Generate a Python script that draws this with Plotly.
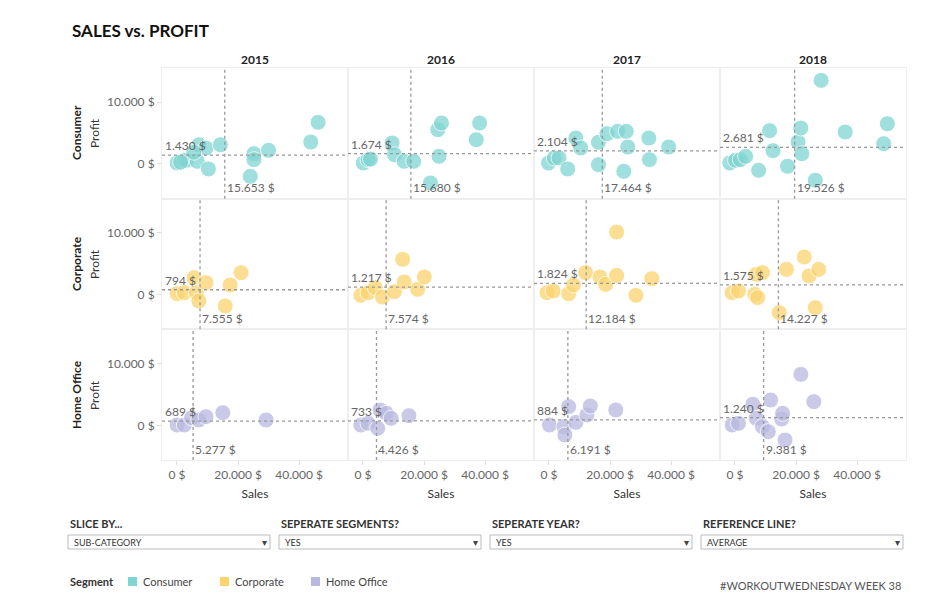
import plotly.graph_objects as go
from plotly.subplots import make_subplots

years = ["2015", "2016", "2017", "2018"]
segments = ["Consumer", "Corporate", "Home Office"]
colors = {"Consumer": "#7fd5d2", "Corporate": "#fbd46e", "Home Office": "#b9b8e0"}

sales = {
 "Consumer": [
  [60, 2400, 3200, 7150, 6650, 9500, 10300, 14200, 24000, 25200, 25200, 30000, 43800, 46200, 1200, 5500],
  [100, 1670, 2460, 9550, 10300, 13500, 16600, 22100, 24500, 25700, 24900, 37100, 38200],
  [-160, 1740, 3300, 6130, 8800, 10400, 16200, 16200, 19000, 22500, 25300, 24500, 25800, 32700, 32900, 39200],
  [-1700, 200, 1770, 3500, 7740, 11350, 12460, 17200, 20650, 21580, 21900, 26300, 28200, 36100, 48700, 49900]],
 "Corporate": [
  [60, 2400, 5570, 6360, 7150, 9500, 15800, 17400, 21000],
  [-700, 1670, 4030, 6390, 10300, 13000, 13500, 17900, 20100],
  [-620, 1410, 6460, 8030, 11970, 16700, 18550, 22160, 28460, 22160, 33680],
  [-920, 1150, 6490, 7440, 6950, 9000, 14500, 16850, 22690, 24260, 27410, 26300]],
 "Home Office": [
  [60, 2400, 4790, 7150, 9500, 15000, 29180],
  [-700, 1670, 4820, 5600, 7660, 9240, 15050],
  [160, 4890, 5200, 6460, 8820, 12430, 13540, 21870],
  [-920, 1150, 5840, 6950, 9000, 10900, 11680, 15290, 15610, 16400, 21580, 25810]],
}
profit = {
 "Consumer": [
  [160, 600, 600, 3100, 430, 2580, -800, 3100, -2000, 1660, 700, 2200, 3550, 6720, 300, 1900],
  [160, 700, 800, 3390, 1500, 430, 430, -3060, 5540, 6610, 1240, 3920, 6610],
  [160, 970, 970, -800, 4190, 2580, 3500, -110, 4890, 5270, 5270, -1180, 2740, 4190, 700, 2740],
  [160, 600, 700, 1240, -1020, 5380, 2150, -370, 3550, 5810, 1660, -2630, 13500, 5160, 3280, 6500]],
 "Corporate": [
  [160, 320, 2740, 320, -1020, 1940, -1830, 1560, 3550],
  [-110, 320, 1130, -380, 480, 5700, 2040, 860, 2850],
  [320, 590, 160, 1560, 3550, 2850, 1660, 3110, -110, 10110, 2580],
  [320, 590, 50, -480, 3270, 3550, -2900, 4080, 6080, 3020, 4080, -2100]],
 "Home Office": [
  [50, 50, 1240, 860, 1400, 2040, 860],
  [50, 320, -480, 2470, 1940, 1130, 1560],
  [50, -210, -1560, 3020, 480, 1670, 3120, 2470],
  [50, 320, 3390, 1130, -210, -1020, 4080, 1020, 1940, -2370, 8230, 3820]],
}
avg_sales = {"Consumer": [15653, 15680, 17464, 19526], "Corporate": [7555, 7574, 12184, 14227],
             "Home Office": [5277, 4426, 6191, 9381]}
avg_profit = {"Consumer": [1430, 1674, 2104, 2681], "Corporate": [794, 1217, 1824, 1575],
              "Home Office": [689, 733, 884, 1240]}
x_tickvals = [0, 20000, 40000]
x_ticktext = ["0 $", "20.000 $", "40.000 $"]
y_tickvals = [0, 10000]
y_ticktext = ["0 $", "10.000 $"]

def fmt(v):
    return f"{v:,}".replace(",", ".") + " $"

W, H = 945, 606
L, R, T, B = 154, 47, 60, 154
PW, PH = W - L - R, H - T - B
fig = make_subplots(rows=3, cols=4, horizontal_spacing=0, vertical_spacing=0)
gray = "#666666"
font = "Lato, Open Sans, sans-serif"
for r, seg in enumerate(segments):
    for c in range(4):
        fig.add_trace(go.Scatter(x=sales[seg][c], y=profit[seg][c], mode="markers",
            marker=dict(size=16, color=colors[seg], opacity=0.75, line=dict(color="white", width=1)),
            showlegend=False, hoverinfo="skip"), row=r + 1, col=c + 1)
        n = r * 4 + c + 1
        sfx = "" if n == 1 else str(n)
        fig.add_shape(type="line", xref=f"x{sfx} domain", yref=f"y{sfx}", x0=0, x1=1,
                      y0=avg_profit[seg][c], y1=avg_profit[seg][c],
                      line=dict(color="#999", width=1.3, dash="dot"))
        fig.add_shape(type="line", xref=f"x{sfx}", yref=f"y{sfx} domain", y0=0, y1=1,
                      x0=avg_sales[seg][c], x1=avg_sales[seg][c],
                      line=dict(color="#999", width=1.3, dash="dot"))
        fig.add_annotation(xref=f"x{sfx} domain", yref=f"y{sfx}", x=0.005, y=avg_profit[seg][c],
                           text=fmt(avg_profit[seg][c]), showarrow=False, xanchor="left",
                           yanchor="bottom", font=dict(size=12, color=gray, family=font))
        fig.add_annotation(xref=f"x{sfx}", yref=f"y{sfx} domain", x=avg_sales[seg][c], y=0.01,
                           text=fmt(avg_sales[seg][c]), showarrow=False, xanchor="left",
                           yanchor="bottom", font=dict(size=12, color=gray, family=font))

fig.update_xaxes(range=[-4900, 56000], tickvals=x_tickvals, ticktext=x_ticktext,
                 showgrid=False, zeroline=False, showline=True, mirror=True, linecolor="#eeeeee",
                 tickfont=dict(size=12, color=gray, family=font), showticklabels=False, ticks="")
fig.update_yaxes(range=[-5600, 15500], tickvals=y_tickvals, ticktext=y_ticktext,
                 showgrid=False, zeroline=False, showline=True, mirror=True, linecolor="#eeeeee",
                 tickfont=dict(size=12, color=gray, family=font), showticklabels=False, ticks="")
for c in range(4):
    fig.update_xaxes(showticklabels=True, row=3, col=c + 1, ticks="outside", ticklen=4,
                     tickcolor="#ddd",
                     title=dict(text="Sales", font=dict(size=12, color="#333", family=font), standoff=8))
for r in range(3):
    fig.update_yaxes(showticklabels=True, row=r + 1, col=1, ticks="outside", ticklen=4, tickcolor="#ddd")

def px(x):
    return (x - L) / PW
def py(y):
    return (H - B - y) / PH

ann = []
def txt(x, y, s, size=12, bold=False, color="#333", xa="left", angle=0):
    ann.append(dict(xref="paper", yref="paper", x=px(x), y=py(y), text=f"<b>{s}</b>" if bold else s,
                    showarrow=False, xanchor=xa, yanchor="middle", textangle=angle,
                    font=dict(size=size, color=color, family=font)))
txt(62, 23, "SALES vs. PROFIT", 17, True, "#111")
for i, yv in enumerate(years):
    txt(154 + 186 * i + 93, 52, yv, 12, True, "#222", "center")
for i, seg in enumerate(segments):
    cy = 60 + 131 * i + 65
    txt(68, cy, seg, 12, True, "#222", "center", -90)
    txt(86, cy, "Profit", 12, False, "#333", "center", -90)

controls = [("SLICE BY...", "SUB-CATEGORY"), ("SEPERATE SEGMENTS?", "YES"),
            ("SEPERATE YEAR?", "YES"), ("REFERENCE LINE?", "AVERAGE")]
shapes = []
for i, (lab, val) in enumerate(controls):
    x0 = 60 + 211 * i
    txt(x0, 515, lab, 11, True, "#333")
    shapes.append(dict(type="rect", xref="paper", yref="paper", x0=px(x0), x1=px(x0 + 202),
                       y0=py(541), y1=py(527), line=dict(color="#bbb", width=1)))
    txt(x0 + 4, 534, val, 9, False, "#333")
    txt(x0 + 196, 534, "▾", 10, False, "#444", "center")
txt(60, 573, "Segment", 11, True, "#333")
leg = [(120, "Consumer"), (212, "Corporate"), (303, "Home Office")]
for x, seg in leg:
    shapes.append(dict(type="rect", xref="paper", yref="paper", x0=px(x), x1=px(x + 9),
                       y0=py(578), y1=py(569), fillcolor=colors[seg], line=dict(width=0)))
    txt(x + 13, 573, seg, 11, False, "#444")
txt(895, 577, "#WORKOUTWEDNESDAY WEEK 38", 11, False, "#555", "right")

fig.update_layout(width=W, height=H, margin=dict(l=L, r=R, t=T, b=B),
                  plot_bgcolor="white", paper_bgcolor="white", showlegend=False)
fig.layout.annotations = list(fig.layout.annotations) + ann
fig.layout.shapes = list(fig.layout.shapes) + shapes
fig.write_html("out.html")
